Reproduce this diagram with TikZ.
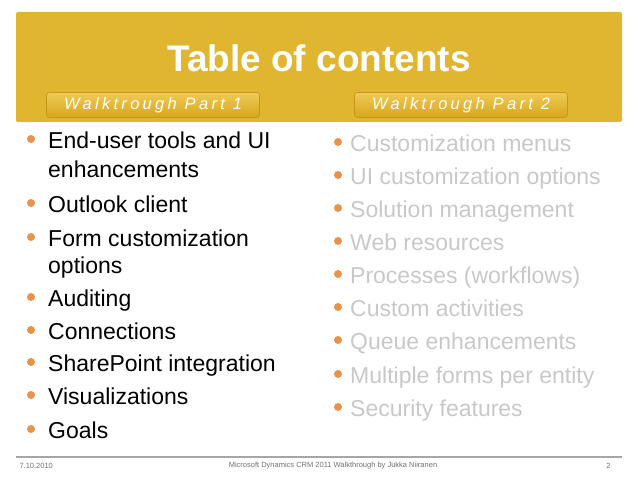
\documentclass[tikz,border=0pt]{standalone}
\usepackage{fontspec}
\setmainfont{Liberation Sans}
\begin{document}
\begin{tikzpicture}[x=1pt,y=-1pt,
  tab/.style={draw=goldd,line width=0.6pt,rounded corners=3pt,top color=goldl,bottom color=goldm,minimum width=213pt,minimum height=25pt,inner sep=0pt,font=\itshape\fontsize{16.5}{16.5}\selectfont,text=white},
  item/.style={anchor=base west,font=\fontsize{23}{23}\selectfont,inner sep=0pt},
  bul/.style={circle,fill=bulc,minimum size=8pt,inner sep=0pt}]
\definecolor{gold}{HTML}{E0B530}
\definecolor{goldl}{HTML}{F0CA55}
\definecolor{goldm}{HTML}{D6A71C}
\definecolor{goldd}{HTML}{C8961A}
\definecolor{bulc}{HTML}{E8934A}
\definecolor{grayt}{HTML}{C8C8C8}
\definecolor{foot}{HTML}{707070}
\useasboundingbox (0,0) rectangle (638,478);
\fill[gold,rounded corners=2pt] (16,12) rectangle (622,122);
\node[font=\bfseries\fontsize{37}{37}\selectfont,text=white,anchor=base] (title) at (319,72) {Table of contents};
\node[tab] (t1) at (153,105) {\addfontfeature{LetterSpace=20}Walktrough Part 1};
\node[tab] (t2) at (461,105) {\addfontfeature{LetterSpace=20}Walktrough Part 2};
\foreach \y/\t [count=\i] in {139/End-user tools and UI,203/Outlook client,237/Form customization,297/Auditing,330/Connections,362/SharePoint integration,395/Visualizations,429/Goals}{
  \node[bul] (lb\i) at (31,\y) {};
  \node[item] (l\i) at (48,\y+10) {\t};}
\node[item] (lc1) at (48,178) {enhancements};
\node[item] (lc2) at (48,274) {options};
\foreach \y/\t [count=\i] in {142/Customization menus,175/UI customization options,208/Solution management,241/Web resources,274/Processes (workflows),307/Custom activities,340/Queue enhancements,374/Multiple forms per entity,407/Security features}{
  \node[bul] (rb\i) at (338,\y) {};
  \node[item,text=grayt] (r\i) at (350,\y+10) {\t};}
\draw[line width=1.2pt,gray!70] (16,457) coordinate (fl) -- (622,457) coordinate (fr);
\node[font=\fontsize{7.5}{7.5}\selectfont,text=foot,anchor=west] (d) at (16,466) {7.10.2010};
\node[font=\fontsize{7.5}{7.5}\selectfont,text=foot] (c) at (333,466) {Microsoft Dynamics CRM 2011 Walkthrough by Jukka Niiranen};
\node[font=\fontsize{7.5}{7.5}\selectfont,text=foot,anchor=east] (p) at (614,466) {2};
\end{tikzpicture}
\end{document}
